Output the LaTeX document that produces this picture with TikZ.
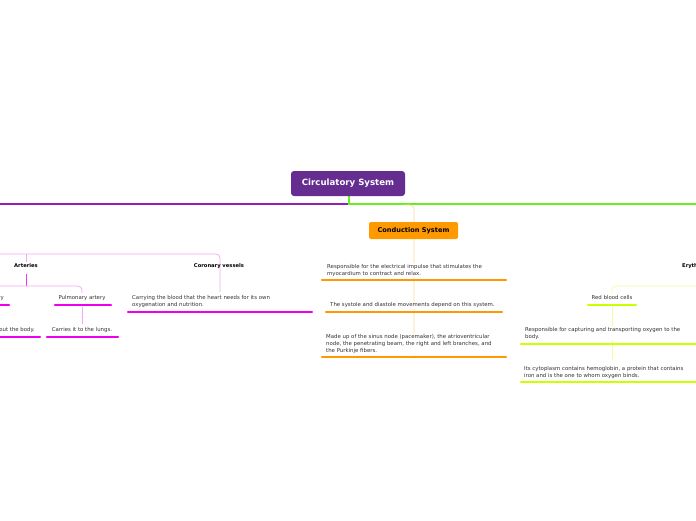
\documentclass[tikz,border=0pt]{standalone}
\usepackage{fontspec}
\setmainfont{DejaVu Sans}
\begin{document}
\begin{tikzpicture}[x=1pt,y=-1pt,
  txt/.style={font=\fontsize{5.4}{7}\selectfont,text=black!80,inner sep=0pt,align=left,anchor=north west},
  ctxt/.style={font=\fontsize{5.4}{7}\selectfont,text=black!80,inner sep=0pt,anchor=north},
  hd/.style={font=\fontsize{5.2}{6}\selectfont\bfseries,inner sep=0pt,anchor=north},
  ul/.style={line width=2.2pt,line cap=round},
  ln/.style={line width=0.8pt,rounded corners=4pt}]
\definecolor{purp}{HTML}{652D90}
\definecolor{org}{HTML}{FF9900}
\definecolor{lorg}{HTML}{FFD9A0}
\definecolor{mag}{HTML}{EE00EE}
\definecolor{lmag}{HTML}{F5A8F5}
\definecolor{ylg}{HTML}{CCFF00}
\definecolor{lylg}{HTML}{EEFFA0}
\definecolor{grn}{HTML}{66EE22}
\useasboundingbox (0,0) rectangle (696,520);
\clip (0,0) rectangle (696,520);
% main lines
\draw[purp!70!magenta,line width=1.2pt] (0,204) -- (349,204);
\draw[grn,line width=1.2pt] (349,196) -- (349,204) -- (696,204);
\node[fill=purp,rounded corners=3pt,minimum width=114pt,minimum height=25pt,text=white,font=\fontsize{8.6}{10}\selectfont\bfseries] (root) at (348,183.5) {Circulatory System};
% conduction
\draw[lorg,ln] (404,205) -- (414,205) -- (414,357);
\node[fill=org,rounded corners=2pt,minimum width=89pt,minimum height=17pt,font=\fontsize{6.6}{8}\selectfont\bfseries] (cs) at (413.5,230.5) {Conduction System};
\node[txt,fill=white,inner sep=1pt] (c1) at (326,263) {Responsible for the electrical impulse that stimulates the\\myocardium to contract and relax.};
\draw[org,ul] (322,280) -- (506,280);
\node[txt,fill=white,inner sep=1pt] (c2) at (329,301.5) {The systole and diastole movements depend on this system.};
\draw[org,ul] (326,312) -- (502,312);
\node[txt,fill=white,inner sep=1pt] (c3) at (325,333.5) {Made up of the sinus node (pacemaker), the atrioventricular\\node, the penetrating beam, the right and left branches, and\\the Purkinje fibers.};
\draw[org,ul] (322,357) -- (506,357);
% left side
\draw[lmag,ln] (0,254) -- (220,254) -- (220,292);
\draw[lmag,ln] (26,254) -- (26,262);
\node[hd] (art) at (26,263.5) {Arteries};
\node[hd] (cor) at (219,263.5) {Coronary vessels};
\draw[mag!80,line width=0.8pt] (26,274) -- (26,286);
\draw[lmag,ln] (0,286) -- (82,286) -- (82,293);
\node[ctxt] (pa) at (82,295) {Pulmonary artery};
\node[txt,anchor=north east] (sa) at (4,295) {Systemic artery};
\draw[mag,ul] (0,305) -- (9,305);
\draw[mag,ul] (55,305) -- (111,305);
\draw[lmag,line width=0.8pt] (82,307) -- (82,324);
\node[ctxt] (lu) at (82,327) {Carries it to the lungs.};
\draw[mag,ul] (47,337) -- (118,337);
\node[txt,anchor=north east] (bo) at (35,327) {Carries it throughout the body.};
\draw[mag,ul] (0,337) -- (40,337);
\node[txt] (cv) at (132,295) {Carrying the blood that the heart needs for its own\\oxygenation and nutrition.};
\draw[mag,ul] (128,312) -- (312,312);
% right side
\node[hd,anchor=north west] (ery) at (682,263.5) {Erythrocytes};
\draw[lylg,ln] (612,294) -- (612,286) -- (700,286);
\node[ctxt] (rbc) at (612,295) {Red blood cells};
\draw[ylg,ul] (588,305) -- (636,305);
\draw[lylg,line width=0.8pt] (612,307) -- (612,360);
\node[txt,fill=white,inner sep=1pt] (e1) at (524,326) {Responsible for capturing and transporting oxygen to the\\body.};
\draw[ylg,ul] (521,344) -- (700,344);
\node[txt,fill=white,inner sep=1pt] (e2) at (523,365) {Its cytoplasm contains hemoglobin, a protein that contains\\iron and is the one to whom oxygen binds.};
\draw[ylg,ul] (521,382) -- (700,382);
\end{tikzpicture}
\end{document}
